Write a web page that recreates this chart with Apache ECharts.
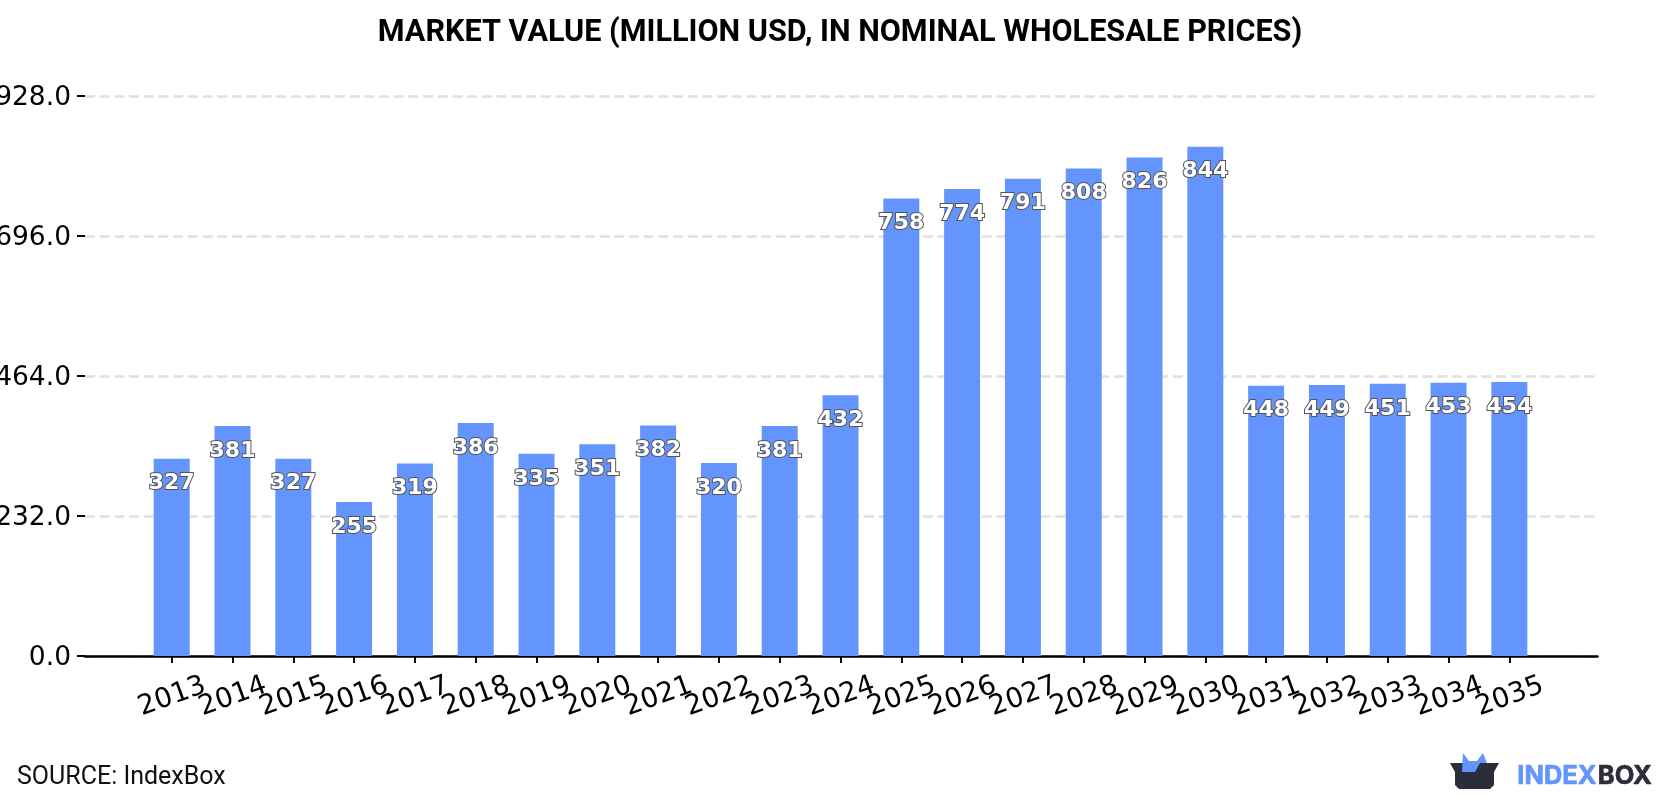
<!DOCTYPE html>
<html>
<head>
<meta charset="utf-8">
<style>html,body{margin:0;padding:0;background:#fff}#chart{width:1680px;height:800px}</style>
<script src="https://cdn.jsdelivr.net/npm/echarts@6/dist/echarts.min.js"></script>
</head>
<body>
<div id="chart"></div>
<script>
const years = [2013,2014,2015,2016,2017,2018,2019,2020,2021,2022,2023,2024,2025,2026,2027,2028,2029,2030,2031,2032,2033,2034,2035];
const marketValues = [327,381,327,255,319,386,335,351,382,320,381,432,758,774,791,808,826,844,448,449,451,453,454];
const valueTicks = [0,232,464,696,928];
const titleText = 'MARKET VALUE (MILLION USD, IN NOMINAL WHOLESALE PRICES)';
const sourceText = 'SOURCE: IndexBox';

const BLUE = '#6495ff', DARK = '#2b2d3a';
const X_MIN = 2011.574, X_MAX = 2036.45;
const chart = echarts.init(document.getElementById('chart'), null, {renderer:'canvas'});

// Text-only scatter layer: year and value labels sit on their axis positions
// and may overlap or run off the canvas edge, which axis labels would not allow.
const labelLayer = (data, label) => ({
  type:'scatter', symbolSize:1, clip:false, silent:true, z:5,
  itemStyle:{color:'transparent',opacity:1}, data,
  label:Object.assign({show:true,position:'inside',verticalAlign:'middle',fontFamily:'DejaVu Sans',color:'#000',opacity:1}, label)
});

chart.setOption({
  animation:false,
  backgroundColor:'#fff',
  title:{text:titleText,left:'center',top:13,textStyle:{fontFamily:'Roboto',fontWeight:'bold',fontSize:30.6,color:'#000'}},
  grid:{left:85,right:82.5,top:96,bottom:144,outerBoundsMode:'none'},
  xAxis:{
    type:'value',min:X_MIN,max:X_MAX,
    splitLine:{show:false},
    axisLine:{lineStyle:{color:'#000',width:2.5}},
    axisTick:{customValues:years,length:7,lineStyle:{color:'#000',width:2}},
    axisLabel:{show:false}
  },
  yAxis:{
    type:'value',min:valueTicks[0],max:valueTicks[valueTicks.length-1],interval:valueTicks[1],
    axisLine:{show:false},
    axisTick:{show:true,length:8,lineStyle:{color:'#000',width:2}},
    axisLabel:{show:false},
    splitLine:{lineStyle:{color:'#e0e0e0',width:2.5,type:[10,4.7]}}
  },
  series:[{
    type:'bar',
    barWidth:36,
    data:years.map((y,i)=>[y,marketValues[i]]),
    itemStyle:{color:BLUE},
    label:{show:true,position:'insideTop',distance:14,formatter:p=>String(p.value[1]),fontFamily:'DejaVu Sans',fontWeight:'bold',fontSize:22,color:'#fff',textBorderColor:'#555',textBorderWidth:2}
  },
  labelLayer(years.map(y=>[y,0]), {offset:[-13.5,38.5],rotate:20,align:'center',fontSize:27.5,formatter:p=>String(p.value[0])}),
  labelLayer(valueTicks.map(v=>[X_MIN,v]), {offset:[-14,2],align:'right',fontSize:26.5,formatter:p=>p.value[1].toFixed(1)})
  ],
  graphic:[
    {type:'text',left:17,top:765,style:{text:sourceText,fontFamily:'Roboto',fontSize:25,fill:'#111'}},
    {type:'polygon',shape:{points:[[1450,763],[1499,763],[1494,772],[1494,785],[1490,789],[1459,789],[1455,785],[1455,772]]},style:{fill:DARK}},
    {type:'polygon',shape:{points:[[1463,753],[1469,761],[1477,761],[1483,753],[1487,763],[1480,763],[1475,772],[1462,772]]},style:{fill:BLUE}},
    {type:'text',left:1517,top:763,style:{text:'INDEX',fontFamily:'Inter',fontWeight:'bold',fontSize:25.5,fill:BLUE,stroke:BLUE,lineWidth:0.7}},
    {type:'text',left:1597.5,top:763,style:{text:'BOX',fontFamily:'Inter',fontWeight:'bold',fontSize:25.5,fill:DARK,stroke:DARK,lineWidth:0.7}}
  ]
});
</script>
</body>
</html>
